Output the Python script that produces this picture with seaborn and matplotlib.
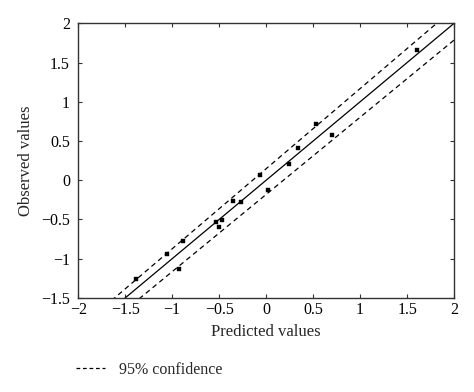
import numpy as np
import pandas as pd
import matplotlib.pyplot as plt
import seaborn as sns
from matplotlib.lines import Line2D

# observed vs predicted points
predicted = [-1.39, -1.06, -0.93, -0.89, -0.53, -0.50, -0.465, -0.35, -0.27,
             -0.07, 0.02, 0.24, 0.34, 0.53, 0.70, 1.61]
observed = [-1.26, -0.94, -1.13, -0.77, -0.53, -0.60, -0.51, -0.27, -0.28,
            0.07, -0.13, 0.21, 0.41, 0.72, 0.58, 1.66]

# fit line and 95% confidence lines (end points)
fit_x = [-2.0, 2.0]
fit_y = [-2.0, 2.0]
upper_x = [-2.0, 2.0]
upper_y = [-1.895, 2.189]
lower_x = [-2.0, 2.0]
lower_y = [-2.149, 1.787]

xticks = [-2, -1.5, -1, -0.5, 0, 0.5, 1, 1.5, 2]
yticks = [-1.5, -1, -0.5, 0, 0.5, 1, 1.5, 2]

sns.set_style("ticks")
plt.rcParams["font.family"] = ["Liberation Serif", "DejaVu Serif"]
plt.rcParams["axes.unicode_minus"] = True

fig = plt.figure(figsize=(4.74, 3.92), dpi=100)
ax = fig.add_axes([0.165, 0.24, 0.793, 0.7005])

df = pd.DataFrame({"Predicted": predicted, "Observed": observed})
sns.lineplot(x=fit_x, y=fit_y, color="black", lw=0.9, ax=ax)
sns.lineplot(x=upper_x, y=upper_y, color="black", lw=0.9, ax=ax,
             linestyle=(0, (4, 3)))
sns.lineplot(x=lower_x, y=lower_y, color="black", lw=0.9, ax=ax,
             linestyle=(0, (4, 3)))
sns.scatterplot(data=df, x="Predicted", y="Observed", marker="s", s=12,
                color="black", edgecolor="black", ax=ax, zorder=3)

ax.set_xlim(-2, 2)
ax.set_ylim(-1.5, 2)
ax.set_xticks(xticks)
ax.set_yticks(yticks)
ax.set_xticklabels([f"{t:g}".replace("-", "\u2212") for t in xticks])
ax.set_yticklabels([f"{t:g}".replace("-", "\u2212") for t in yticks])
ax.tick_params(direction="in", top=True, right=True, length=3, width=0.8,
               labelsize=11.5, colors="#333333", labelcolor="black")
ax.tick_params(axis="x", pad=3)
ax.tick_params(axis="y", pad=6)
for s in ax.spines.values():
    s.set_linewidth(1.0)
    s.set_color("#333333")
ax.set_xlabel("Predicted values", fontsize=12, labelpad=4)
ax.set_ylabel("Observed values", fontsize=12, labelpad=5)

# legend line below the plot
handle = Line2D([], [], color="black", lw=0.9, linestyle=(0, (3, 2.2)))
fig.legend(handles=[handle], labels=["95% confidence"], loc="lower left",
           bbox_to_anchor=(0.13, 0.0), frameon=False, fontsize=11.5,
           handlelength=1.8, handletextpad=0.9)

fig.savefig("out.png", dpi=100)
